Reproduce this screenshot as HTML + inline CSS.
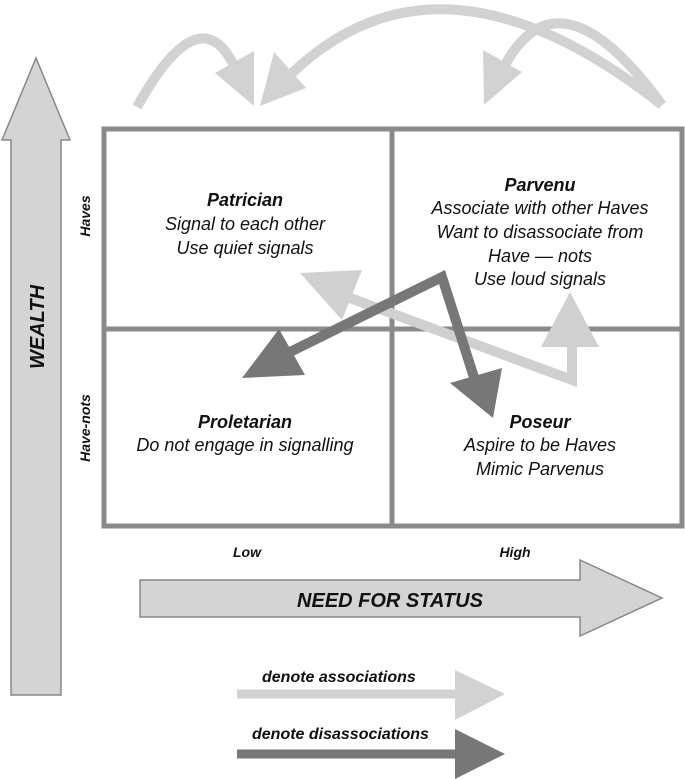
<!DOCTYPE html>
<html><head><style>body{margin:0;background:#fff}svg{display:block}text{font-family:"Liberation Sans",sans-serif;font-style:italic;fill:#111}</style></head><body>
<svg width="685" height="779" viewBox="0 0 685 779" xmlns="http://www.w3.org/2000/svg">
<g fill="none" stroke="#d2d2d2" stroke-width="10">
<path d="M137,107 Q205,-15 240,80"/>
<path d="M662,105 Q440,-70 290,75"/>
<path d="M662,105 Q560,-35 505,65"/>
</g>
<g fill="#d2d2d2">
<polygon points="215,73 254,51 254,106"/>
<polygon points="274,52 306,88 260,106"/>
<polygon points="483,50 522,72 484,105"/>
</g>
<g fill="none" stroke="#8a8a8a" stroke-width="5">
<rect x="104" y="129" width="578" height="397"/>
<line x1="392" y1="129" x2="392" y2="526"/>
<line x1="104" y1="329" x2="682" y2="329"/>
</g>
<polygon points="11,695 11,140 2,140 36,58 70,140 61,140 61,695" fill="#d4d4d4" stroke="#888" stroke-width="1.5"/>
<text transform="translate(44,327) rotate(-90)" text-anchor="middle" font-size="20" font-weight="bold">WEALTH</text>
<text transform="translate(90,216) rotate(-90)" text-anchor="middle" font-size="14" font-weight="bold">Haves</text>
<text transform="translate(90,428) rotate(-90)" text-anchor="middle" font-size="14" font-weight="bold">Have-nots</text>
<polygon points="140,580 580,580 580,560 662,598 580,636 580,617 140,617" fill="#d4d4d4" stroke="#888" stroke-width="1.5"/>
<text x="390" y="607" text-anchor="middle" font-size="20" font-weight="bold">NEED FOR STATUS</text>
<text x="247" y="557" text-anchor="middle" font-size="14" font-weight="bold">Low</text>
<text x="515" y="557" text-anchor="middle" font-size="14" font-weight="bold">High</text>
<polyline points="350,298 572,380 572,345" fill="none" stroke="#d0d0d0" stroke-width="10"/>
<polygon points="300,273 362,270 342,320" fill="#d0d0d0"/>
<polygon points="570,292 541,347 599,347" fill="#d0d0d0"/>
<polyline points="290,352 442,277 478,390" fill="none" stroke="#777" stroke-width="10"/>
<polygon points="242,378 279,329 305,375" fill="#777"/>
<polygon points="450,383 502,368 493,418" fill="#777"/>
<g font-size="18" text-anchor="middle">
<text x="245" y="206" font-weight="bold">Patrician</text>
<text x="245" y="230">Signal to each other</text>
<text x="245" y="254">Use quiet signals</text>
<text x="540" y="191" font-weight="bold">Parvenu</text>
<text x="540" y="214">Associate with other Haves</text>
<text x="540" y="238">Want to disassociate from</text>
<text x="540" y="262">Have — nots</text>
<text x="540" y="285">Use loud signals</text>
<text x="245" y="428" font-weight="bold">Proletarian</text>
<text x="245" y="451">Do not engage in signalling</text>
<text x="540" y="428" font-weight="bold">Poseur</text>
<text x="540" y="451">Aspire to be Haves</text>
<text x="540" y="475">Mimic Parvenus</text>
</g>
<line x1="237" y1="694" x2="458" y2="694" stroke="#d2d2d2" stroke-width="9"/>
<polygon points="455,670 505,694 455,720" fill="#d2d2d2"/>
<line x1="237" y1="754" x2="458" y2="754" stroke="#777" stroke-width="9"/>
<polygon points="455,729 505,754 455,779" fill="#777"/>
<text x="262" y="682" font-size="16" font-weight="bold">denote associations</text>
<text x="252" y="739" font-size="16" font-weight="bold">denote disassociations</text>
</svg>
</body></html>
